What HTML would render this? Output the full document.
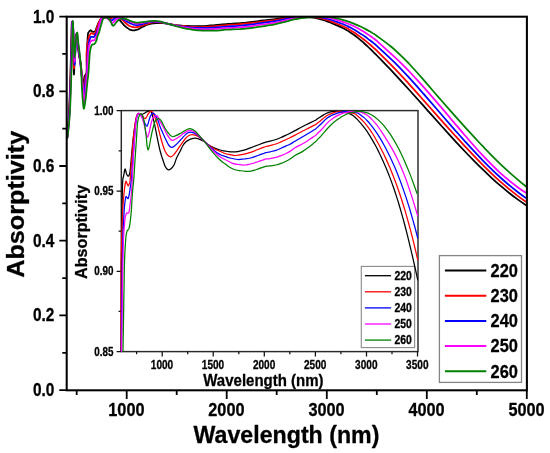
<!DOCTYPE html>
<html lang="en"><head><meta charset="utf-8"><title>Absorptivity vs Wavelength</title>
<style>html,body{margin:0;padding:0;background:#fff}svg{display:block}text{font-family:"Liberation Sans",sans-serif;font-weight:bold;fill:#000;stroke:#000;stroke-width:0.3px;stroke-linejoin:round}</style></head><body>
<svg width="550" height="453" viewBox="0 0 550 453">
<rect width="550" height="453" fill="#fff"/>
<defs><clipPath id="cm"><rect x="66.7" y="16.7" width="460.2" height="373.6"/></clipPath>
<clipPath id="ci"><rect x="120.1" y="110.6" width="298.3" height="241.5"/></clipPath></defs>
<g fill="none" stroke-width="1.75" stroke-linejoin="round" stroke-linecap="round" clip-path="url(#cm)">
<path stroke="#000000" d="M67.13 138.00C67.29 136.33 67.75 132.22 68.06 128.00C68.37 123.78 68.68 119.37 69.00 112.70C69.32 106.03 69.73 95.45 70.00 88.00C70.27 80.55 70.38 76.00 70.60 68.00C70.82 60.00 71.08 47.67 71.30 40.00C71.52 32.33 71.62 21.94 71.90 22.00C72.18 22.06 72.72 33.38 73.00 40.38C73.28 47.38 73.38 58.31 73.55 64.00C73.72 69.69 73.84 74.75 74.00 74.50C74.16 74.25 74.25 67.83 74.50 62.50C74.75 57.17 75.18 47.17 75.50 42.50C75.82 37.83 76.07 34.32 76.40 34.50C76.73 34.68 77.08 40.25 77.50 43.60C77.92 46.95 78.33 51.13 78.90 54.60C79.47 58.07 80.40 60.43 80.90 64.40C81.40 68.37 81.57 74.73 81.90 78.40C82.23 82.07 82.60 85.80 82.90 86.40C83.20 87.00 83.42 83.73 83.70 82.00C83.98 80.27 84.12 77.56 84.60 76.00C85.08 74.44 86.24 75.18 86.61 72.63C86.98 70.07 86.72 64.58 86.80 60.65C86.89 56.71 86.95 52.90 87.10 49.02C87.24 45.14 87.51 40.07 87.69 37.39C87.86 34.72 87.95 33.90 88.17 32.97C88.40 32.04 88.68 32.27 89.06 31.81C89.43 31.35 90.05 30.38 90.43 30.21C90.80 30.03 91.01 30.55 91.31 30.76C91.60 30.97 91.75 31.29 92.19 31.46C92.63 31.64 93.43 31.91 93.95 31.81C94.47 31.71 94.85 31.61 95.32 30.83C95.80 30.06 96.30 28.39 96.79 27.16C97.28 25.93 97.69 24.64 98.26 23.44C98.83 22.24 99.65 20.84 100.22 19.95C100.79 19.06 101.25 18.51 101.69 18.09C102.13 17.67 102.52 17.56 102.86 17.44C103.20 17.31 103.37 17.35 103.74 17.34C104.12 17.34 104.51 17.37 105.11 17.39C105.72 17.41 106.63 17.49 107.37 17.46C108.10 17.43 108.74 17.31 109.52 17.20C110.30 17.10 111.20 16.92 112.07 16.83C112.93 16.74 114.07 16.66 114.71 16.67C115.35 16.68 115.51 16.76 115.88 16.88C116.26 17.00 116.49 17.04 116.96 17.41C117.44 17.79 118.06 18.41 118.72 19.11C119.39 19.82 120.36 20.93 120.98 21.65C121.60 22.37 121.82 22.73 122.44 23.44C123.07 24.14 123.95 25.17 124.70 25.88C125.45 26.58 126.13 27.07 126.95 27.67C127.77 28.27 128.83 29.07 129.59 29.48C130.36 29.90 130.91 30.03 131.55 30.18C132.19 30.33 132.76 30.38 133.41 30.37C134.06 30.36 134.64 30.32 135.47 30.14C136.30 29.95 137.51 29.66 138.41 29.25C139.30 28.84 139.87 28.19 140.85 27.67C141.83 27.15 143.24 26.60 144.28 26.11C145.32 25.62 146.14 25.09 147.12 24.72C148.10 24.34 149.11 24.08 150.15 23.86C151.20 23.63 152.41 23.49 153.39 23.37C154.37 23.24 155.10 23.17 156.03 23.11C156.96 23.05 157.91 23.01 158.97 23.02C160.03 23.03 161.25 23.07 162.39 23.16C163.54 23.24 164.84 23.41 165.82 23.53C166.80 23.65 167.22 23.69 168.27 23.86C169.31 24.03 170.86 24.36 172.09 24.55C173.31 24.75 174.37 24.87 175.61 25.02C176.85 25.17 178.22 25.31 179.53 25.44C180.83 25.56 182.21 25.67 183.45 25.76C184.69 25.85 185.67 25.91 186.97 25.97C188.28 26.03 189.81 26.07 191.28 26.11C192.75 26.15 194.20 26.20 195.78 26.20C197.37 26.21 198.92 26.20 200.78 26.14C202.64 26.07 204.86 25.96 206.95 25.81C209.03 25.66 211.03 25.45 213.31 25.25C215.59 25.05 218.43 24.80 220.65 24.60C222.87 24.40 225.37 24.18 226.63 24.07C227.88 23.95 227.67 23.96 228.19 23.93C228.72 23.89 229.06 23.88 229.76 23.85C230.46 23.81 231.00 23.80 232.40 23.72C233.81 23.63 236.39 23.46 238.18 23.32C239.98 23.18 241.51 23.03 243.17 22.86C244.84 22.69 246.70 22.46 248.17 22.30C249.64 22.13 250.53 22.03 251.99 21.86C253.44 21.68 254.81 21.51 256.88 21.25C258.95 20.99 262.14 20.58 264.42 20.30C266.71 20.02 268.76 19.79 270.59 19.58C272.42 19.36 274.33 19.14 275.39 19.02C276.45 18.89 276.43 18.91 276.95 18.83C277.48 18.76 277.95 18.67 278.52 18.58C279.09 18.48 279.40 18.43 280.38 18.27C281.36 18.12 283.25 17.81 284.40 17.65C285.54 17.48 286.19 17.39 287.24 17.27C288.28 17.16 289.68 17.05 290.66 16.97C291.64 16.90 292.29 16.87 293.11 16.83C293.93 16.80 294.58 16.77 295.56 16.76C296.54 16.76 297.76 16.79 298.99 16.81C300.21 16.83 301.60 16.86 302.90 16.90C304.21 16.94 305.51 16.99 306.82 17.07C308.12 17.14 309.59 17.23 310.74 17.34C311.88 17.46 312.63 17.57 313.67 17.74C314.72 17.91 315.94 18.16 317.00 18.39C318.06 18.62 319.01 18.86 320.04 19.13C321.07 19.41 322.11 19.70 323.17 20.02C324.23 20.34 325.36 20.70 326.40 21.07C327.45 21.43 328.46 21.83 329.44 22.23C330.42 22.62 331.23 22.99 332.28 23.44C333.32 23.88 334.64 24.44 335.70 24.89C336.76 25.34 337.69 25.73 338.64 26.15C339.59 26.56 340.16 26.78 341.38 27.37C342.61 27.97 344.48 28.87 345.98 29.71C347.49 30.55 349.13 31.59 350.39 32.40C351.65 33.21 352.50 33.83 353.52 34.57C354.55 35.32 355.69 36.20 356.56 36.87C357.42 37.54 357.98 38.00 358.71 38.60C359.45 39.21 360.07 39.72 360.97 40.49C361.86 41.27 363.09 42.34 364.10 43.25C365.11 44.15 365.98 44.95 367.04 45.94C368.10 46.93 369.24 48.01 370.46 49.19C371.69 50.37 373.27 51.93 374.38 53.02C375.49 54.11 374.78 53.36 377.12 55.75C379.46 58.14 385.50 64.33 388.40 67.35C391.30 70.36 391.05 70.09 394.50 73.82C397.95 77.56 404.25 84.41 409.10 89.76C413.95 95.11 419.85 101.75 423.60 105.95C427.35 110.14 428.53 111.49 431.60 114.93C434.67 118.36 438.22 122.35 442.00 126.54C445.78 130.73 450.47 135.91 454.30 140.07C458.13 144.23 461.75 148.09 465.00 151.51C468.25 154.94 470.85 157.62 473.80 160.61C476.75 163.60 479.75 166.60 482.70 169.46C485.65 172.32 488.55 175.07 491.50 177.78C494.45 180.48 497.45 183.17 500.40 185.70C503.35 188.23 506.27 190.65 509.20 192.97C512.13 195.30 515.10 197.55 518.00 199.63C520.90 201.71 525.17 204.50 526.60 205.47"/>
<path stroke="#ff0000" d="M67.19 138.00C67.36 136.33 67.84 132.22 68.18 128.00C68.51 123.78 68.86 119.37 69.20 112.70C69.54 106.03 69.93 95.45 70.20 88.00C70.47 80.55 70.58 76.00 70.80 68.00C71.02 60.00 71.28 47.70 71.50 40.00C71.72 32.30 71.85 22.12 72.10 21.80C72.35 21.48 72.76 31.90 73.00 38.11C73.24 44.32 73.38 54.03 73.55 59.08C73.72 64.13 73.84 68.57 74.00 68.40C74.16 68.23 74.25 62.67 74.50 58.08C74.75 53.49 75.15 44.89 75.50 40.88C75.85 36.87 76.23 33.55 76.60 34.00C76.97 34.45 77.28 40.17 77.70 43.60C78.12 47.03 78.48 50.23 79.10 54.60C79.72 58.97 80.85 64.93 81.40 69.80C81.95 74.67 82.07 80.13 82.40 83.80C82.73 87.47 83.10 91.43 83.40 91.80C83.70 92.17 83.93 88.30 84.20 86.00C84.47 83.70 84.60 80.23 85.00 78.00C85.40 75.77 86.36 76.64 86.61 72.63C86.86 68.61 86.40 58.42 86.51 53.90C86.62 49.39 87.02 47.84 87.29 45.53C87.57 43.22 87.88 41.49 88.17 40.04C88.47 38.60 88.75 37.76 89.06 36.86C89.37 35.95 89.66 35.23 90.04 34.60C90.41 33.97 90.92 33.24 91.31 33.07C91.70 32.89 92.01 33.38 92.39 33.55C92.76 33.73 93.20 34.09 93.56 34.11C93.92 34.13 94.25 33.86 94.54 33.67C94.83 33.48 94.95 33.83 95.32 32.97C95.70 32.12 96.27 30.14 96.79 28.55C97.31 26.96 97.88 24.91 98.46 23.44C99.03 21.96 99.68 20.63 100.22 19.72C100.76 18.81 101.15 18.38 101.69 17.97C102.23 17.57 102.80 17.39 103.45 17.30C104.10 17.20 104.92 17.31 105.60 17.39C106.29 17.48 106.86 17.63 107.56 17.81C108.26 17.99 109.16 18.41 109.81 18.46C110.47 18.51 110.87 18.29 111.48 18.09C112.08 17.89 112.67 17.50 113.44 17.27C114.20 17.05 115.38 16.77 116.08 16.74C116.78 16.71 117.12 16.93 117.65 17.11C118.17 17.29 118.51 17.43 119.21 17.83C119.92 18.24 120.94 18.79 121.86 19.53C122.77 20.27 123.73 21.41 124.70 22.27C125.66 23.14 126.82 24.10 127.63 24.72C128.45 25.34 128.86 25.63 129.59 26.00C130.33 26.36 131.09 26.70 132.04 26.93C132.99 27.15 134.21 27.39 135.27 27.37C136.33 27.35 137.26 27.10 138.41 26.81C139.55 26.52 140.90 26.02 142.13 25.60C143.35 25.19 144.49 24.74 145.75 24.32C147.01 23.90 148.52 23.40 149.67 23.09C150.81 22.78 151.57 22.61 152.60 22.46C153.63 22.31 154.77 22.21 155.83 22.18C156.89 22.15 157.92 22.22 158.97 22.30C160.01 22.37 161.04 22.48 162.10 22.62C163.16 22.77 164.30 22.98 165.33 23.18C166.36 23.38 167.29 23.60 168.27 23.81C169.25 24.01 170.16 24.22 171.21 24.41C172.25 24.61 173.31 24.80 174.54 25.00C175.76 25.19 177.10 25.40 178.55 25.58C180.00 25.75 181.62 25.88 183.25 26.04C184.88 26.21 186.68 26.45 188.34 26.58C190.01 26.71 191.57 26.76 193.24 26.83C194.90 26.91 196.21 27.05 198.33 27.04C200.45 27.03 203.47 26.91 205.97 26.79C208.46 26.66 210.86 26.49 213.31 26.30C215.76 26.11 218.43 25.85 220.65 25.65C222.87 25.45 225.37 25.21 226.63 25.09C227.88 24.98 227.67 24.99 228.19 24.95C228.72 24.91 229.06 24.91 229.76 24.87C230.46 24.84 231.00 24.82 232.40 24.74C233.81 24.66 236.39 24.51 238.18 24.37C239.98 24.22 241.51 24.05 243.17 23.88C244.84 23.70 246.70 23.48 248.17 23.32C249.64 23.16 250.53 23.10 251.99 22.93C253.44 22.76 254.81 22.56 256.88 22.30C258.95 22.03 262.14 21.62 264.42 21.34C266.71 21.07 268.76 20.84 270.59 20.62C272.42 20.41 274.33 20.17 275.39 20.04C276.45 19.92 276.43 19.93 276.95 19.86C277.48 19.78 277.79 19.71 278.52 19.57C279.26 19.44 279.97 19.34 281.36 19.07C282.75 18.79 285.29 18.21 286.84 17.95C288.39 17.69 289.41 17.62 290.66 17.48C291.92 17.35 293.24 17.23 294.38 17.13C295.53 17.04 296.49 16.97 297.52 16.93C298.54 16.88 299.33 16.86 300.55 16.86C301.78 16.85 303.33 16.85 304.86 16.88C306.39 16.91 308.16 16.96 309.76 17.02C311.36 17.08 313.15 17.13 314.46 17.23C315.76 17.33 316.54 17.46 317.59 17.62C318.63 17.78 319.69 17.95 320.72 18.18C321.75 18.41 322.73 18.71 323.76 19.02C324.79 19.32 325.85 19.68 326.89 20.02C327.94 20.36 328.98 20.70 330.02 21.07C331.07 21.43 332.13 21.83 333.16 22.23C334.19 22.63 335.15 23.05 336.19 23.47C337.24 23.89 338.36 24.31 339.42 24.75C340.49 25.18 341.53 25.60 342.56 26.06C343.59 26.52 344.37 26.85 345.59 27.49C346.82 28.14 348.48 29.08 349.90 29.92C351.32 30.77 352.89 31.76 354.11 32.55C355.34 33.35 356.22 33.95 357.24 34.67C358.27 35.38 359.38 36.19 360.28 36.84C361.18 37.50 361.80 37.97 362.63 38.61C363.46 39.25 363.92 39.58 365.27 40.68C366.63 41.79 369.32 44.03 370.76 45.26C372.19 46.48 372.83 47.07 373.89 48.02C374.95 48.98 373.69 47.59 377.12 50.98C380.56 54.36 389.17 62.81 394.50 68.33C399.83 73.85 404.25 78.77 409.10 84.10C413.95 89.43 419.00 95.15 423.60 100.32C428.20 105.49 431.58 109.38 436.70 115.11C441.82 120.84 449.58 129.51 454.30 134.72C459.02 139.93 460.27 141.34 465.00 146.35C469.73 151.37 476.80 158.93 482.70 164.82C488.60 170.71 494.52 176.49 500.40 181.71C506.28 186.93 513.63 192.73 518.00 196.12C522.37 199.52 525.17 201.07 526.60 202.05"/>
<path stroke="#0000ff" d="M67.25 138.00C67.42 136.33 67.94 132.22 68.30 128.00C68.66 123.78 69.05 119.37 69.40 112.70C69.75 106.03 70.13 95.45 70.40 88.00C70.67 80.55 70.78 76.00 71.00 68.00C71.22 60.00 71.48 47.75 71.70 40.00C71.92 32.25 71.97 22.06 72.30 21.50C72.63 20.94 73.38 30.88 73.70 36.66C74.03 42.43 74.08 51.45 74.25 56.14C74.42 60.83 74.54 64.92 74.70 64.80C74.86 64.68 74.95 59.60 75.20 55.44C75.45 51.28 75.93 43.48 76.20 39.84C76.47 36.20 76.52 32.97 76.80 33.60C77.08 34.23 77.48 40.10 77.90 43.60C78.32 47.10 78.65 49.07 79.30 54.60C79.95 60.13 81.22 70.77 81.80 76.80C82.38 82.83 82.47 87.13 82.80 90.80C83.13 94.47 83.48 98.77 83.80 98.80C84.12 98.83 84.40 94.13 84.70 91.00C85.00 87.87 85.25 83.06 85.60 80.00C85.95 76.94 86.46 76.97 86.80 72.63C87.15 68.28 87.41 58.42 87.69 53.90C87.96 49.39 88.16 47.84 88.47 45.53C88.78 43.22 89.22 41.32 89.55 40.04C89.87 38.76 90.13 38.42 90.43 37.86C90.72 37.29 90.98 36.82 91.31 36.65C91.63 36.47 92.01 36.74 92.39 36.81C92.76 36.88 93.18 37.20 93.56 37.07C93.94 36.93 94.29 36.45 94.64 36.00C94.98 35.55 95.27 34.93 95.62 34.37C95.96 33.81 96.33 33.48 96.69 32.62C97.05 31.77 97.35 30.59 97.77 29.25C98.19 27.91 98.75 26.11 99.24 24.60C99.73 23.09 100.25 21.27 100.71 20.18C101.16 19.10 101.52 18.58 101.98 18.09C102.44 17.60 102.88 17.35 103.45 17.25C104.02 17.15 104.72 17.33 105.41 17.51C106.09 17.69 106.83 17.99 107.56 18.32C108.30 18.65 109.10 19.16 109.81 19.48C110.53 19.81 111.30 20.27 111.87 20.27C112.44 20.27 112.77 19.82 113.24 19.48C113.71 19.15 114.19 18.59 114.71 18.25C115.23 17.91 115.85 17.63 116.37 17.46C116.90 17.29 117.35 17.21 117.84 17.20C118.33 17.20 118.79 17.30 119.31 17.44C119.83 17.58 120.41 17.80 120.98 18.04C121.55 18.29 122.12 18.53 122.74 18.90C123.36 19.28 123.80 19.76 124.70 20.30C125.59 20.84 127.06 21.60 128.12 22.16C129.18 22.72 130.16 23.24 131.06 23.67C131.96 24.10 132.69 24.47 133.51 24.72C134.33 24.96 135.06 25.14 135.96 25.16C136.85 25.18 137.65 25.06 138.89 24.83C140.13 24.61 142.09 24.13 143.40 23.81C144.70 23.49 145.68 23.20 146.73 22.93C147.77 22.65 148.77 22.38 149.67 22.18C150.56 21.99 151.30 21.86 152.11 21.76C152.93 21.67 153.66 21.60 154.56 21.60C155.46 21.60 156.45 21.67 157.50 21.76C158.54 21.86 159.69 21.99 160.83 22.18C161.97 22.38 163.11 22.65 164.35 22.93C165.59 23.20 166.88 23.49 168.27 23.81C169.66 24.13 171.21 24.51 172.68 24.83C174.14 25.15 175.78 25.48 177.08 25.74C178.39 26.00 179.27 26.22 180.51 26.41C181.75 26.61 183.22 26.79 184.52 26.93C185.83 27.06 186.89 27.11 188.34 27.23C189.79 27.34 191.16 27.50 193.24 27.62C195.31 27.75 198.49 27.93 200.78 27.97C203.06 28.01 204.86 27.91 206.95 27.86C209.03 27.80 211.03 27.76 213.31 27.62C215.59 27.49 218.43 27.23 220.65 27.04C222.87 26.86 225.37 26.63 226.63 26.53C227.88 26.42 227.67 26.43 228.19 26.39C228.72 26.36 229.06 26.35 229.76 26.31C230.46 26.28 231.00 26.26 232.40 26.18C233.81 26.11 236.39 25.99 238.18 25.86C239.98 25.72 241.51 25.54 243.17 25.37C244.84 25.19 246.70 24.97 248.17 24.81C249.64 24.65 250.53 24.60 251.99 24.41C253.44 24.23 254.81 24.01 256.88 23.72C258.95 23.43 262.14 22.99 264.42 22.67C266.71 22.35 268.76 22.07 270.59 21.81C272.42 21.55 274.33 21.28 275.39 21.13C276.45 20.97 276.43 21.00 276.95 20.90C277.48 20.81 277.62 20.76 278.52 20.56C279.42 20.36 280.74 20.08 282.34 19.72C283.94 19.36 286.48 18.71 288.12 18.39C289.75 18.07 290.68 17.98 292.13 17.81C293.58 17.63 295.36 17.48 296.83 17.34C298.30 17.21 299.49 17.10 300.94 17.02C302.40 16.94 303.91 16.88 305.55 16.86C307.18 16.83 309.22 16.86 310.74 16.88C312.25 16.89 313.41 16.92 314.65 16.95C315.89 16.98 317.03 16.98 318.18 17.07C319.32 17.15 320.46 17.31 321.51 17.48C322.55 17.65 323.46 17.86 324.44 18.09C325.42 18.31 326.34 18.56 327.38 18.83C328.43 19.10 329.65 19.39 330.71 19.72C331.77 20.04 332.72 20.40 333.75 20.76C334.77 21.12 335.74 21.47 336.88 21.88C338.02 22.29 339.34 22.77 340.60 23.24C341.86 23.71 343.19 24.21 344.42 24.72C345.64 25.23 347.03 25.86 347.94 26.29C348.86 26.72 348.76 26.67 349.90 27.29C351.04 27.90 353.26 29.11 354.80 30.00C356.33 30.89 357.88 31.86 359.11 32.64C360.33 33.41 361.11 33.94 362.14 34.64C363.17 35.34 364.29 36.12 365.27 36.82C366.25 37.52 367.18 38.21 368.02 38.83C368.85 39.45 369.29 39.78 370.27 40.55C371.25 41.32 372.75 42.51 373.89 43.44C375.03 44.37 373.69 42.98 377.12 46.13C380.56 49.28 389.17 57.07 394.50 62.32C399.83 67.58 404.25 72.41 409.10 77.67C413.95 82.94 418.75 88.41 423.60 93.93C428.45 99.45 433.08 104.89 438.20 110.78C443.32 116.68 449.83 124.22 454.30 129.32C458.77 134.41 460.27 136.18 465.00 141.35C469.73 146.52 476.80 154.28 482.70 160.31C488.60 166.34 494.52 172.20 500.40 177.52C506.28 182.85 513.63 188.77 518.00 192.24C522.37 195.72 525.17 197.35 526.60 198.37"/>
<path stroke="#ff00ff" d="M67.33 138.00C67.51 136.33 68.06 132.22 68.45 128.00C68.84 123.78 69.28 119.37 69.65 112.70C70.02 106.03 70.38 95.45 70.65 88.00C70.92 80.55 71.03 76.00 71.25 68.00C71.47 60.00 71.73 47.78 71.95 40.00C72.17 32.22 72.26 22.05 72.55 21.30C72.84 20.55 73.42 30.10 73.70 35.51C73.98 40.92 74.08 49.38 74.25 53.78C74.42 58.18 74.54 61.98 74.70 61.90C74.86 61.82 74.95 57.12 75.20 53.29C75.45 49.46 75.89 42.29 76.20 38.94C76.51 35.59 76.72 32.42 77.05 33.20C77.38 33.98 77.73 40.03 78.15 43.60C78.57 47.17 78.86 48.40 79.55 54.60C80.24 60.80 81.67 74.10 82.30 80.80C82.92 87.50 82.97 91.13 83.30 94.80C83.63 98.47 84.00 102.60 84.30 102.80C84.60 103.00 84.78 99.47 85.10 96.00C85.42 92.53 85.87 85.90 86.20 82.00C86.53 78.10 86.77 77.31 87.10 72.63C87.43 67.94 87.85 58.34 88.17 53.90C88.50 49.47 88.68 48.01 89.06 46.00C89.43 43.98 90.04 42.68 90.43 41.81C90.82 40.94 91.11 41.00 91.41 40.76C91.70 40.52 91.86 40.42 92.19 40.37C92.52 40.32 92.99 40.50 93.36 40.46C93.74 40.42 94.11 40.45 94.44 40.14C94.77 39.82 94.95 39.28 95.32 38.55C95.70 37.83 96.29 36.97 96.69 35.81C97.10 34.65 97.43 33.06 97.77 31.58C98.11 30.10 98.42 28.28 98.75 26.93C99.08 25.57 99.37 24.67 99.73 23.44C100.09 22.20 100.50 20.46 100.90 19.53C101.31 18.60 101.72 18.24 102.18 17.86C102.63 17.48 103.04 17.29 103.65 17.25C104.25 17.21 105.11 17.39 105.80 17.62C106.48 17.86 107.14 18.24 107.76 18.67C108.38 19.10 108.98 19.68 109.52 20.18C110.06 20.69 110.50 21.26 110.99 21.69C111.48 22.13 111.97 22.79 112.46 22.81C112.95 22.83 113.40 22.29 113.93 21.81C114.45 21.33 115.05 20.47 115.59 19.95C116.13 19.43 116.64 18.99 117.16 18.67C117.68 18.35 118.17 18.20 118.72 18.04C119.28 17.89 119.93 17.76 120.49 17.74C121.04 17.72 121.53 17.81 122.05 17.93C122.58 18.05 123.18 18.26 123.62 18.46C124.06 18.66 123.95 18.79 124.70 19.13C125.45 19.48 127.14 20.10 128.12 20.53C129.10 20.96 129.67 21.31 130.57 21.69C131.47 22.08 132.51 22.55 133.51 22.86C134.50 23.16 135.40 23.48 136.54 23.53C137.69 23.58 139.01 23.33 140.36 23.16C141.72 22.98 143.53 22.68 144.67 22.48C145.81 22.29 146.39 22.14 147.22 22.00C148.05 21.85 148.88 21.71 149.67 21.60C150.45 21.49 151.20 21.39 151.92 21.32C152.64 21.26 153.21 21.20 153.97 21.20C154.74 21.21 155.59 21.26 156.52 21.34C157.45 21.43 158.33 21.51 159.55 21.74C160.78 21.96 162.41 22.35 163.86 22.69C165.32 23.04 166.80 23.43 168.27 23.81C169.74 24.19 171.21 24.60 172.68 24.97C174.14 25.34 175.61 25.71 177.08 26.04C178.55 26.38 180.04 26.70 181.49 26.97C182.94 27.24 184.49 27.48 185.80 27.67C187.10 27.86 187.66 27.89 189.32 28.09C190.99 28.29 193.82 28.68 195.78 28.86C197.74 29.03 199.19 29.07 201.07 29.14C202.95 29.20 205.25 29.26 207.04 29.25C208.84 29.25 210.39 29.18 211.84 29.11C213.29 29.05 214.13 28.98 215.76 28.86C217.39 28.74 219.82 28.54 221.63 28.39C223.44 28.25 225.53 28.07 226.63 27.98C227.72 27.89 227.67 27.88 228.19 27.86C228.72 27.83 229.06 27.84 229.76 27.82C230.46 27.81 231.00 27.82 232.40 27.76C233.81 27.71 236.39 27.60 238.18 27.48C239.98 27.37 241.51 27.22 243.17 27.07C244.84 26.91 246.70 26.74 248.17 26.58C249.64 26.41 250.53 26.31 251.99 26.09C253.44 25.87 254.81 25.55 256.88 25.25C258.95 24.95 262.14 24.61 264.42 24.30C266.71 23.99 268.76 23.67 270.59 23.39C272.42 23.11 274.33 22.80 275.39 22.64C276.45 22.47 276.43 22.49 276.95 22.39C277.48 22.29 277.46 22.27 278.52 22.02C279.58 21.77 281.51 21.34 283.32 20.88C285.13 20.42 287.59 19.69 289.39 19.27C291.18 18.86 292.43 18.66 294.09 18.39C295.75 18.12 297.91 17.83 299.38 17.65C300.85 17.46 301.66 17.40 302.90 17.30C304.14 17.20 305.43 17.12 306.82 17.04C308.21 16.97 309.76 16.88 311.22 16.86C312.69 16.83 314.08 16.86 315.63 16.88C317.18 16.90 319.27 16.96 320.53 17.00C321.78 17.03 322.19 17.01 323.17 17.09C324.15 17.16 325.36 17.29 326.40 17.44C327.45 17.58 328.41 17.74 329.44 17.95C330.47 18.16 331.53 18.42 332.57 18.69C333.61 18.96 334.68 19.27 335.70 19.57C336.73 19.87 337.71 20.18 338.74 20.50C339.77 20.82 340.75 21.12 341.87 21.49C343.00 21.86 344.24 22.26 345.49 22.72C346.75 23.18 348.11 23.71 349.41 24.26C350.72 24.81 352.10 25.46 353.33 26.04C354.55 26.62 355.53 27.11 356.76 27.76C357.98 28.40 359.35 29.15 360.67 29.91C361.99 30.67 363.49 31.58 364.69 32.32C365.88 33.06 366.78 33.66 367.82 34.36C368.86 35.06 370.02 35.86 370.95 36.52C371.88 37.18 372.58 37.70 373.40 38.30C374.22 38.91 375.23 39.69 375.85 40.17C376.47 40.64 372.80 37.23 377.12 41.16C381.45 45.09 395.25 57.43 401.80 63.76C408.35 70.09 411.55 73.88 416.40 79.15C421.25 84.43 426.05 89.86 430.90 95.40C435.75 100.95 441.60 107.85 445.50 112.43C449.40 117.01 451.05 119.03 454.30 122.87C457.55 126.72 460.27 130.07 465.00 135.50C469.73 140.93 476.80 149.17 482.70 155.44C488.60 161.70 494.52 167.74 500.40 173.09C506.28 178.43 513.63 184.14 518.00 187.49C522.37 190.83 525.17 192.21 526.60 193.15"/>
<path stroke="#008000" d="M67.40 138.00C67.60 136.33 68.18 132.22 68.60 128.00C69.02 123.78 69.52 119.37 69.90 112.70C70.28 106.03 70.63 95.45 70.90 88.00C71.17 80.55 71.28 76.00 71.50 68.00C71.72 60.00 71.98 47.82 72.20 40.00C72.42 32.18 72.60 22.27 72.80 21.10C73.00 19.93 73.20 28.52 73.40 33.00C73.60 37.48 73.78 43.92 74.00 48.00C74.22 52.08 74.47 57.50 74.70 57.50C74.93 57.50 75.13 51.42 75.40 48.00C75.67 44.58 75.98 39.53 76.30 37.00C76.62 34.47 76.95 31.70 77.30 32.80C77.65 33.90 77.98 39.97 78.40 43.60C78.82 47.23 79.32 49.87 79.80 54.60C80.28 59.33 80.95 66.45 81.30 72.00C81.65 77.55 81.58 82.40 81.90 87.90C82.22 93.40 82.85 101.53 83.20 105.00C83.55 108.47 83.72 108.87 84.00 108.70C84.28 108.53 84.60 105.82 84.90 104.00C85.20 102.18 85.40 101.32 85.80 97.80C86.20 94.28 86.86 87.10 87.30 82.90C87.74 78.70 88.06 77.46 88.47 72.63C88.88 67.79 89.42 57.80 89.74 53.90C90.07 50.01 90.17 50.56 90.43 49.25C90.69 47.95 91.01 46.81 91.31 46.07C91.60 45.32 91.85 45.08 92.19 44.79C92.53 44.50 92.99 44.46 93.36 44.32C93.74 44.18 94.03 44.36 94.44 43.95C94.85 43.53 95.44 42.54 95.81 41.83C96.19 41.13 96.40 40.65 96.69 39.72C96.99 38.78 97.22 37.36 97.57 36.23C97.93 35.10 98.55 33.72 98.85 32.95C99.14 32.17 99.11 32.39 99.34 31.58C99.57 30.77 99.84 29.45 100.22 28.09C100.59 26.73 101.18 24.86 101.59 23.44C102.00 22.01 102.27 20.42 102.67 19.53C103.06 18.64 103.48 18.44 103.94 18.09C104.40 17.74 104.87 17.50 105.41 17.41C105.95 17.33 106.68 17.43 107.17 17.58C107.66 17.73 107.97 18.00 108.35 18.32C108.72 18.65 108.95 18.80 109.42 19.53C109.90 20.26 110.74 21.81 111.18 22.69C111.63 23.57 111.76 24.30 112.07 24.81C112.38 25.32 112.67 25.76 113.05 25.76C113.42 25.76 113.75 25.43 114.32 24.81C114.89 24.19 115.66 22.95 116.47 22.07C117.29 21.19 118.40 20.10 119.21 19.53C120.03 18.96 120.78 18.85 121.37 18.67C121.96 18.49 122.22 18.47 122.74 18.46C123.26 18.45 123.91 18.49 124.50 18.60C125.09 18.71 125.38 18.75 126.26 19.11C127.14 19.47 128.74 20.33 129.79 20.76C130.83 21.19 131.67 21.42 132.53 21.69C133.40 21.96 134.21 22.24 134.98 22.39C135.75 22.55 136.23 22.62 137.13 22.62C138.03 22.63 139.11 22.53 140.36 22.41C141.62 22.29 143.45 22.06 144.67 21.90C145.90 21.74 146.71 21.60 147.71 21.46C148.70 21.32 149.60 21.17 150.64 21.07C151.69 20.96 152.99 20.82 153.97 20.81C154.95 20.80 155.59 20.89 156.52 21.00C157.45 21.10 158.33 21.20 159.55 21.46C160.78 21.72 162.41 22.19 163.86 22.58C165.32 22.97 166.80 23.38 168.27 23.81C169.74 24.24 171.21 24.74 172.68 25.18C174.14 25.63 175.61 26.08 177.08 26.48C178.55 26.89 180.04 27.28 181.49 27.62C182.94 27.97 184.65 28.33 185.80 28.55C186.94 28.77 187.35 28.77 188.34 28.95C189.34 29.12 190.53 29.40 191.77 29.60C193.01 29.80 194.56 30.00 195.78 30.14C197.01 30.27 197.86 30.34 199.11 30.41C200.37 30.49 201.85 30.53 203.32 30.58C204.79 30.63 206.47 30.69 207.92 30.72C209.38 30.74 210.73 30.76 212.04 30.74C213.34 30.72 214.52 30.65 215.76 30.58C217.00 30.50 218.17 30.41 219.48 30.30C220.78 30.19 222.40 30.01 223.59 29.90C224.78 29.80 225.86 29.73 226.63 29.67C227.39 29.61 227.67 29.58 228.19 29.55C228.72 29.53 229.06 29.53 229.76 29.52C230.46 29.50 231.00 29.51 232.40 29.46C233.81 29.42 236.39 29.35 238.18 29.25C239.98 29.15 241.51 29.03 243.17 28.88C244.84 28.73 246.70 28.54 248.17 28.37C249.64 28.20 250.53 28.08 251.99 27.86C253.44 27.64 254.81 27.34 256.88 27.04C258.95 26.75 262.14 26.42 264.42 26.09C266.71 25.76 268.76 25.37 270.59 25.04C272.42 24.72 274.33 24.35 275.39 24.15C276.45 23.95 276.43 23.97 276.95 23.86C277.48 23.74 277.46 23.73 278.52 23.46C279.58 23.18 281.51 22.70 283.32 22.23C285.13 21.75 287.59 21.06 289.39 20.60C291.18 20.14 292.43 19.83 294.09 19.48C295.75 19.14 297.91 18.78 299.38 18.53C300.85 18.28 301.66 18.14 302.90 17.97C304.14 17.80 305.51 17.64 306.82 17.51C308.12 17.37 309.49 17.25 310.74 17.16C311.98 17.07 312.84 17.02 314.26 16.97C315.68 16.92 317.80 16.87 319.25 16.86C320.71 16.84 321.70 16.86 322.97 16.88C324.25 16.90 325.70 16.91 326.89 16.97C328.08 17.03 329.08 17.12 330.12 17.23C331.17 17.34 332.15 17.48 333.16 17.65C334.17 17.82 335.15 18.03 336.19 18.25C337.24 18.48 338.36 18.72 339.42 18.98C340.49 19.23 341.53 19.51 342.56 19.80C343.59 20.08 344.45 20.33 345.59 20.68C346.74 21.04 348.16 21.49 349.41 21.93C350.67 22.37 351.91 22.84 353.13 23.33C354.36 23.81 355.51 24.29 356.76 24.83C358.00 25.38 359.63 26.14 360.57 26.58C361.52 27.03 361.60 27.07 362.43 27.50C363.27 27.92 364.47 28.53 365.57 29.12C366.66 29.71 367.77 30.32 368.99 31.03C370.22 31.74 371.65 32.60 372.91 33.38C374.17 34.16 373.54 33.52 376.53 35.70C379.53 37.89 386.39 42.74 390.90 46.48C395.41 50.21 400.57 55.25 403.60 58.14C406.63 61.02 405.77 60.14 409.10 63.76C412.43 67.38 418.75 74.34 423.60 79.85C428.45 85.37 433.35 91.25 438.20 96.84C443.05 102.42 448.23 108.32 452.70 113.36C457.17 118.41 461.18 122.89 465.00 127.11C468.82 131.32 472.65 135.49 475.60 138.67C478.55 141.85 478.57 141.98 482.70 146.21C486.83 150.44 494.52 158.41 500.40 164.03C506.28 169.65 513.63 176.13 518.00 179.94C522.37 183.76 525.17 185.75 526.60 186.91"/>
</g>
<g stroke="#000" stroke-width="2.05" fill="none">
<rect x="66.7" y="16.7" width="460.2" height="373.6"/>
<path d="M66.7 390.1H59.3M66.7 315.4H59.3M66.7 240.7H59.3M66.7 166.0H59.3M66.7 91.3H59.3M66.7 16.6H59.3M66.7 352.8H62.3M66.7 278.1H62.3M66.7 203.4H62.3M66.7 128.7H62.3M66.7 53.9H62.3M126.7 390.3V398.9M226.7 390.3V398.9M326.8 390.3V398.9M426.8 390.3V398.9M526.8 390.3V398.9M76.7 390.3V394.9M176.7 390.3V394.9M276.7 390.3V394.9M376.8 390.3V394.9M476.8 390.3V394.9" stroke-width="1.8"/>
</g>
<g font-size="17.6px" lengthAdjust="spacingAndGlyphs">
<text x="54.3" y="396.1" text-anchor="end" textLength="21.4" lengthAdjust="spacingAndGlyphs">0.0</text>
<text x="54.3" y="321.4" text-anchor="end" textLength="21.4" lengthAdjust="spacingAndGlyphs">0.2</text>
<text x="54.3" y="246.7" text-anchor="end" textLength="21.4" lengthAdjust="spacingAndGlyphs">0.4</text>
<text x="54.3" y="172.0" text-anchor="end" textLength="21.4" lengthAdjust="spacingAndGlyphs">0.6</text>
<text x="54.3" y="97.3" text-anchor="end" textLength="21.4" lengthAdjust="spacingAndGlyphs">0.8</text>
<text x="54.3" y="22.6" text-anchor="end" textLength="21.4" lengthAdjust="spacingAndGlyphs">1.0</text>
<text x="126.4" y="416.1" text-anchor="middle" textLength="36.2" lengthAdjust="spacingAndGlyphs">1000</text>
<text x="226.4" y="416.1" text-anchor="middle" textLength="36.2" lengthAdjust="spacingAndGlyphs">2000</text>
<text x="326.5" y="416.1" text-anchor="middle" textLength="36.2" lengthAdjust="spacingAndGlyphs">3000</text>
<text x="426.5" y="416.1" text-anchor="middle" textLength="36.2" lengthAdjust="spacingAndGlyphs">4000</text>
<text x="526.5" y="416.1" text-anchor="middle" textLength="36.2" lengthAdjust="spacingAndGlyphs">5000</text>
</g>
<text x="286.5" y="442.5" font-size="23.8px" text-anchor="middle" textLength="185.8" lengthAdjust="spacingAndGlyphs">Wavelength (nm)</text>
<text transform="translate(24.2 204.3) rotate(-90)" font-size="23px" text-anchor="middle" textLength="147" lengthAdjust="spacingAndGlyphs">Absorptivity</text>
<rect x="439.4" y="255.6" width="82.1" height="126.8" fill="#fff" stroke="#858585" stroke-width="1.3"/>
<path d="M444.9 270.5H486.3" stroke="#000000" stroke-width="2" fill="none"/>
<text x="490.5" y="276.8" font-size="19px" textLength="27.4" lengthAdjust="spacingAndGlyphs">220</text>
<path d="M444.9 295.7H486.3" stroke="#ff0000" stroke-width="2" fill="none"/>
<text x="490.5" y="302.0" font-size="19px" textLength="27.4" lengthAdjust="spacingAndGlyphs">230</text>
<path d="M444.9 320.9H486.3" stroke="#0000ff" stroke-width="2" fill="none"/>
<text x="490.5" y="327.2" font-size="19px" textLength="27.4" lengthAdjust="spacingAndGlyphs">240</text>
<path d="M444.9 346.0H486.3" stroke="#ff00ff" stroke-width="2" fill="none"/>
<text x="490.5" y="352.3" font-size="19px" textLength="27.4" lengthAdjust="spacingAndGlyphs">250</text>
<path d="M444.9 371.2H486.3" stroke="#008000" stroke-width="2" fill="none"/>
<text x="490.5" y="377.5" font-size="19px" textLength="27.4" lengthAdjust="spacingAndGlyphs">260</text>
<g fill="none" stroke-width="1.25" stroke-linejoin="round" stroke-linecap="butt" clip-path="url(#ci)">
</g>
<g stroke="#2a2a2a" stroke-width="1.45" fill="none">
<rect x="121.3" y="110.6" width="296.7" height="241.0"/>
<path d="M121.3 351.6H116.6M121.3 271.3H116.6M121.3 191.0H116.6M121.3 110.7H116.6M121.3 311.4H118.6M121.3 231.1H118.6M121.3 150.9H118.6M162.2 351.6V356.4M213.2 351.6V356.4M264.3 351.6V356.4M315.4 351.6V356.4M366.5 351.6V356.4M417.5 351.6V356.4M136.6 351.6V354.2M187.7 351.6V354.2M238.8 351.6V354.2M289.8 351.6V354.2M340.9 351.6V354.2M392.0 351.6V354.2" stroke-width="1.25" stroke="#111"/>
</g>
<rect x="361.3" y="266.4" width="53.3" height="81.2" fill="#fff" stroke="#8e8e8e" stroke-width="1.15"/>
<path d="M364.9 275.7H391.1" stroke="#000000" stroke-width="1.3" fill="none"/>
<text x="394.4" y="279.8" font-size="11.9px" textLength="17.4" lengthAdjust="spacingAndGlyphs">220</text>
<path d="M364.9 291.8H391.1" stroke="#ff0000" stroke-width="1.3" fill="none"/>
<text x="394.4" y="295.9" font-size="11.9px" textLength="17.4" lengthAdjust="spacingAndGlyphs">230</text>
<path d="M364.9 307.9H391.1" stroke="#0000ff" stroke-width="1.3" fill="none"/>
<text x="394.4" y="312.0" font-size="11.9px" textLength="17.4" lengthAdjust="spacingAndGlyphs">240</text>
<path d="M364.9 324.0H391.1" stroke="#ff00ff" stroke-width="1.3" fill="none"/>
<text x="394.4" y="328.1" font-size="11.9px" textLength="17.4" lengthAdjust="spacingAndGlyphs">250</text>
<path d="M364.9 340.1H391.1" stroke="#008000" stroke-width="1.3" fill="none"/>
<text x="394.4" y="344.2" font-size="11.9px" textLength="17.4" lengthAdjust="spacingAndGlyphs">260</text>
<g fill="none" stroke-width="1.25" stroke-linejoin="round" stroke-linecap="butt" clip-path="url(#ci)">
<path stroke="#000000" d="M121.10 351.50C121.13 342.92 121.22 316.92 121.30 300.00C121.38 283.08 121.45 266.67 121.60 250.00C121.75 233.33 122.02 211.50 122.20 200.00C122.38 188.50 122.47 185.00 122.70 181.00C122.93 177.00 123.22 177.98 123.60 176.00C123.98 174.02 124.62 169.85 125.00 169.10C125.38 168.35 125.60 170.60 125.90 171.50C126.20 172.40 126.35 173.75 126.80 174.50C127.25 175.25 128.07 176.45 128.60 176.00C129.13 175.55 129.52 175.13 130.00 171.80C130.48 168.47 131.00 161.30 131.50 156.00C132.00 150.70 132.42 145.17 133.00 140.00C133.58 134.83 134.42 128.83 135.00 125.00C135.58 121.17 136.05 118.80 136.50 117.00C136.95 115.20 137.35 114.73 137.70 114.20C138.05 113.67 138.22 113.83 138.60 113.80C138.98 113.77 139.38 113.92 140.00 114.00C140.62 114.08 141.55 114.43 142.30 114.30C143.05 114.17 143.70 113.65 144.50 113.20C145.30 112.75 146.22 111.98 147.10 111.60C147.98 111.22 149.15 110.87 149.80 110.90C150.45 110.93 150.62 111.27 151.00 111.80C151.38 112.33 151.62 112.50 152.10 114.10C152.58 115.70 153.22 118.37 153.90 121.40C154.58 124.43 155.57 129.20 156.20 132.30C156.83 135.40 157.07 136.97 157.70 140.00C158.33 143.03 159.23 147.47 160.00 150.50C160.77 153.53 161.47 155.62 162.30 158.20C163.13 160.78 164.22 164.20 165.00 166.00C165.78 167.80 166.35 168.37 167.00 169.00C167.65 169.63 168.23 169.83 168.90 169.80C169.57 169.77 170.15 169.60 171.00 168.80C171.85 168.00 173.08 166.77 174.00 165.00C174.92 163.23 175.50 160.45 176.50 158.20C177.50 155.95 178.93 153.62 180.00 151.50C181.07 149.38 181.90 147.12 182.90 145.50C183.90 143.88 184.93 142.77 186.00 141.80C187.07 140.83 188.30 140.23 189.30 139.70C190.30 139.17 191.05 138.85 192.00 138.60C192.95 138.35 193.92 138.17 195.00 138.20C196.08 138.23 197.33 138.43 198.50 138.80C199.67 139.17 201.00 139.90 202.00 140.40C203.00 140.90 203.43 141.07 204.50 141.80C205.57 142.53 207.15 143.97 208.40 144.80C209.65 145.63 210.73 146.17 212.00 146.80C213.27 147.43 214.67 148.07 216.00 148.60C217.33 149.13 218.73 149.62 220.00 150.00C221.27 150.38 222.27 150.65 223.60 150.90C224.93 151.15 226.50 151.33 228.00 151.50C229.50 151.67 230.98 151.88 232.60 151.90C234.22 151.92 235.80 151.88 237.70 151.60C239.60 151.32 241.87 150.83 244.00 150.20C246.13 149.57 248.17 148.67 250.50 147.80C252.83 146.93 255.73 145.85 258.00 145.00C260.27 144.15 262.82 143.19 264.10 142.70C265.38 142.22 265.17 142.26 265.70 142.10C266.23 141.94 266.58 141.92 267.30 141.77C268.02 141.62 268.57 141.58 270.00 141.20C271.43 140.82 274.07 140.12 275.90 139.50C277.73 138.88 279.30 138.23 281.00 137.50C282.70 136.77 284.60 135.82 286.10 135.10C287.60 134.38 288.52 133.95 290.00 133.20C291.48 132.45 292.88 131.72 295.00 130.60C297.12 129.48 300.37 127.70 302.70 126.50C305.03 125.30 307.13 124.32 309.00 123.40C310.87 122.48 312.82 121.52 313.90 120.99C314.98 120.45 314.97 120.51 315.50 120.20C316.03 119.89 316.52 119.50 317.10 119.10C317.68 118.70 318.00 118.47 319.00 117.80C320.00 117.13 321.93 115.82 323.10 115.10C324.27 114.38 324.93 113.98 326.00 113.50C327.07 113.02 328.50 112.52 329.50 112.20C330.50 111.88 331.17 111.75 332.00 111.60C332.83 111.45 333.50 111.32 334.50 111.30C335.50 111.28 336.75 111.40 338.00 111.50C339.25 111.60 340.67 111.72 342.00 111.90C343.33 112.08 344.67 112.28 346.00 112.60C347.33 112.92 348.83 113.31 350.00 113.80C351.17 114.29 351.93 114.76 353.00 115.55C354.07 116.34 355.32 117.50 356.40 118.55C357.48 119.60 358.45 120.67 359.50 121.84C360.55 123.02 361.62 124.24 362.70 125.59C363.78 126.95 364.93 128.48 366.00 129.98C367.07 131.48 368.10 133.03 369.10 134.59C370.10 136.14 370.93 137.49 372.00 139.32C373.07 141.15 374.42 143.56 375.50 145.57C376.58 147.58 377.53 149.44 378.50 151.38C379.47 153.31 380.05 154.45 381.30 157.18C382.55 159.91 384.47 164.11 386.00 167.77C387.53 171.42 389.22 175.72 390.50 179.10C391.78 182.47 392.65 184.95 393.70 188.00C394.75 191.05 395.92 194.63 396.80 197.38C397.68 200.13 398.25 202.00 399.00 204.50C399.75 206.99 400.38 209.11 401.30 212.36C402.22 215.61 403.47 220.13 404.50 224.01C405.53 227.89 406.42 231.30 407.50 235.64C408.58 239.98 409.75 244.73 411.00 250.04C412.25 255.35 413.87 262.45 415.00 267.50C416.13 272.54 417.33 278.18 417.80 280.31"/>
<path stroke="#ff0000" d="M121.10 351.50C121.08 338.08 120.88 290.42 121.00 271.00C121.12 251.58 121.52 244.93 121.80 235.00C122.08 225.07 122.40 217.62 122.70 211.40C123.00 205.18 123.28 201.60 123.60 197.70C123.92 193.80 124.22 190.72 124.60 188.00C124.98 185.28 125.50 182.15 125.90 181.40C126.30 180.65 126.62 182.75 127.00 183.50C127.38 184.25 127.83 185.82 128.20 185.90C128.57 185.98 128.90 184.82 129.20 184.00C129.50 183.18 129.62 184.67 130.00 181.00C130.38 177.33 130.97 168.83 131.50 162.00C132.03 155.17 132.62 146.33 133.20 140.00C133.78 133.67 134.45 127.92 135.00 124.00C135.55 120.08 135.95 118.23 136.50 116.50C137.05 114.77 137.63 114.02 138.30 113.60C138.97 113.18 139.80 113.63 140.50 114.00C141.20 114.37 141.78 115.03 142.50 115.80C143.22 116.57 144.13 118.40 144.80 118.60C145.47 118.80 145.88 117.85 146.50 117.00C147.12 116.15 147.72 114.47 148.50 113.50C149.28 112.53 150.48 111.32 151.20 111.20C151.92 111.08 152.27 112.02 152.80 112.80C153.33 113.58 153.68 114.17 154.40 115.90C155.12 117.63 156.17 120.02 157.10 123.20C158.03 126.38 159.02 131.28 160.00 135.00C160.98 138.72 162.17 142.83 163.00 145.50C163.83 148.17 164.25 149.42 165.00 151.00C165.75 152.58 166.53 154.02 167.50 155.00C168.47 155.98 169.72 156.98 170.80 156.90C171.88 156.82 172.83 155.77 174.00 154.50C175.17 153.23 176.55 151.08 177.80 149.30C179.05 147.52 180.22 145.60 181.50 143.80C182.78 142.00 184.33 139.83 185.50 138.50C186.67 137.17 187.45 136.45 188.50 135.80C189.55 135.15 190.72 134.72 191.80 134.60C192.88 134.48 193.93 134.78 195.00 135.10C196.07 135.42 197.12 135.87 198.20 136.50C199.28 137.13 200.45 138.05 201.50 138.90C202.55 139.75 203.50 140.72 204.50 141.60C205.50 142.48 206.43 143.35 207.50 144.20C208.57 145.05 209.65 145.87 210.90 146.70C212.15 147.53 213.52 148.45 215.00 149.20C216.48 149.95 218.13 150.48 219.80 151.20C221.47 151.92 223.30 152.93 225.00 153.50C226.70 154.07 228.30 154.27 230.00 154.60C231.70 154.93 233.03 155.53 235.20 155.50C237.37 155.47 240.45 154.93 243.00 154.40C245.55 153.87 248.00 153.12 250.50 152.30C253.00 151.48 255.73 150.36 258.00 149.50C260.27 148.64 262.82 147.62 264.10 147.12C265.38 146.62 265.17 146.66 265.70 146.50C266.23 146.34 266.58 146.32 267.30 146.17C268.02 146.02 268.57 145.96 270.00 145.60C271.43 145.24 274.07 144.62 275.90 144.00C277.73 143.38 279.30 142.65 281.00 141.90C282.70 141.15 284.60 140.18 286.10 139.50C287.60 138.82 288.52 138.53 290.00 137.80C291.48 137.07 292.88 136.23 295.00 135.10C297.12 133.97 300.37 132.20 302.70 131.00C305.03 129.80 307.13 128.83 309.00 127.90C310.87 126.97 312.82 125.96 313.90 125.41C314.98 124.86 314.97 124.94 315.50 124.60C316.03 124.26 316.35 123.96 317.10 123.39C317.85 122.82 318.58 122.37 320.00 121.20C321.42 120.03 324.02 117.53 325.60 116.40C327.18 115.27 328.22 114.98 329.50 114.40C330.78 113.82 332.13 113.30 333.30 112.90C334.47 112.50 335.45 112.20 336.50 112.00C337.55 111.80 338.35 111.73 339.60 111.70C340.85 111.67 342.43 111.68 344.00 111.80C345.57 111.92 347.37 112.14 349.00 112.40C350.63 112.66 352.47 112.87 353.80 113.37C355.13 113.87 355.93 114.58 357.00 115.40C358.07 116.21 359.15 117.27 360.20 118.26C361.25 119.26 362.25 120.23 363.30 121.37C364.35 122.52 365.43 123.80 366.50 125.14C367.57 126.49 368.63 127.93 369.70 129.46C370.77 130.98 371.85 132.63 372.90 134.29C373.95 135.96 374.93 137.59 376.00 139.45C377.07 141.30 378.22 143.38 379.30 145.42C380.38 147.46 381.45 149.55 382.50 151.66C383.55 153.78 384.35 155.39 385.60 158.12C386.85 160.86 388.55 164.62 390.00 168.06C391.45 171.50 393.05 175.54 394.30 178.77C395.55 182.00 396.45 184.49 397.50 187.45C398.55 190.40 399.68 193.74 400.60 196.49C401.52 199.24 402.15 201.23 403.00 203.95C403.85 206.68 404.32 207.99 405.70 212.86C407.08 217.73 409.83 227.66 411.30 233.19C412.77 238.71 413.42 241.51 414.50 246.01C415.58 250.52 417.25 257.86 417.80 260.23"/>
<path stroke="#0000ff" d="M121.30 351.50C121.45 338.08 121.92 290.42 122.20 271.00C122.48 251.58 122.68 244.93 123.00 235.00C123.32 225.07 123.77 216.90 124.10 211.40C124.43 205.90 124.70 204.43 125.00 202.00C125.30 199.57 125.57 197.55 125.90 196.80C126.23 196.05 126.62 197.20 127.00 197.50C127.38 197.80 127.82 199.18 128.20 198.60C128.58 198.02 128.95 195.93 129.30 194.00C129.65 192.07 129.95 189.42 130.30 187.00C130.65 184.58 131.03 183.17 131.40 179.50C131.77 175.83 132.07 170.75 132.50 165.00C132.93 159.25 133.50 151.50 134.00 145.00C134.50 138.50 135.03 130.67 135.50 126.00C135.97 121.33 136.33 119.10 136.80 117.00C137.27 114.90 137.72 113.82 138.30 113.40C138.88 112.98 139.60 113.73 140.30 114.50C141.00 115.27 141.75 116.58 142.50 118.00C143.25 119.42 144.07 121.60 144.80 123.00C145.53 124.40 146.32 126.40 146.90 126.40C147.48 126.40 147.82 124.45 148.30 123.00C148.78 121.55 149.27 119.15 149.80 117.70C150.33 116.25 150.97 115.05 151.50 114.30C152.03 113.55 152.50 113.22 153.00 113.20C153.50 113.18 153.97 113.60 154.50 114.20C155.03 114.80 155.62 115.75 156.20 116.80C156.78 117.85 157.37 118.88 158.00 120.50C158.63 122.12 159.08 124.17 160.00 126.50C160.92 128.83 162.42 132.08 163.50 134.50C164.58 136.92 165.58 139.17 166.50 141.00C167.42 142.83 168.17 144.43 169.00 145.50C169.83 146.57 170.58 147.32 171.50 147.40C172.42 147.48 173.23 146.97 174.50 146.00C175.77 145.03 177.77 142.97 179.10 141.60C180.43 140.23 181.43 138.97 182.50 137.80C183.57 136.63 184.58 135.43 185.50 134.60C186.42 133.77 187.17 133.22 188.00 132.80C188.83 132.38 189.58 132.10 190.50 132.10C191.42 132.10 192.43 132.38 193.50 132.80C194.57 133.22 195.73 133.77 196.90 134.60C198.07 135.43 199.23 136.63 200.50 137.80C201.77 138.97 203.08 140.23 204.50 141.60C205.92 142.97 207.50 144.62 209.00 146.00C210.50 147.38 212.17 148.77 213.50 149.90C214.83 151.03 215.73 151.95 217.00 152.80C218.27 153.65 219.77 154.42 221.10 155.00C222.43 155.58 223.52 155.80 225.00 156.30C226.48 156.80 227.88 157.47 230.00 158.00C232.12 158.53 235.37 159.33 237.70 159.50C240.03 159.67 241.87 159.25 244.00 159.00C246.13 158.75 248.17 158.58 250.50 158.00C252.83 157.42 255.73 156.29 258.00 155.50C260.27 154.71 262.82 153.75 264.10 153.28C265.38 152.82 265.17 152.85 265.70 152.70C266.23 152.55 266.58 152.52 267.30 152.37C268.02 152.22 268.57 152.13 270.00 151.80C271.43 151.47 274.07 150.98 275.90 150.40C277.73 149.82 279.30 149.05 281.00 148.30C282.70 147.55 284.60 146.58 286.10 145.90C287.60 145.22 288.52 144.98 290.00 144.20C291.48 143.42 292.88 142.45 295.00 141.20C297.12 139.95 300.37 138.07 302.70 136.70C305.03 135.33 307.13 134.11 309.00 133.00C310.87 131.89 312.82 130.71 313.90 130.06C314.98 129.41 314.97 129.51 315.50 129.10C316.03 128.69 316.18 128.47 317.10 127.62C318.02 126.77 319.37 125.55 321.00 124.00C322.63 122.45 325.23 119.67 326.90 118.30C328.57 116.93 329.52 116.55 331.00 115.80C332.48 115.05 334.30 114.37 335.80 113.80C337.30 113.23 338.52 112.75 340.00 112.40C341.48 112.05 343.03 111.80 344.70 111.70C346.37 111.60 348.45 111.75 350.00 111.80C351.55 111.85 352.73 111.81 354.00 112.01C355.27 112.21 356.43 112.47 357.60 113.02C358.77 113.56 359.93 114.50 361.00 115.27C362.07 116.04 363.00 116.77 364.00 117.64C365.00 118.51 365.93 119.39 367.00 120.50C368.07 121.61 369.32 123.01 370.40 124.31C371.48 125.61 372.45 126.86 373.50 128.29C374.55 129.71 375.53 131.10 376.70 132.88C377.87 134.65 379.22 136.78 380.50 138.93C381.78 141.09 383.15 143.50 384.40 145.80C385.65 148.09 387.07 150.87 388.00 152.70C388.93 154.53 388.83 154.26 390.00 156.79C391.17 159.31 393.43 164.20 395.00 167.86C396.57 171.52 398.15 175.54 399.40 178.74C400.65 181.95 401.45 184.17 402.50 187.11C403.55 190.06 404.70 193.41 405.70 196.41C406.70 199.41 407.65 202.41 408.50 205.12C409.35 207.84 409.80 209.27 410.80 212.71C411.80 216.15 413.33 221.50 414.50 225.77C415.67 230.05 417.25 236.26 417.80 238.36"/>
<path stroke="#ff00ff" d="M121.60 351.50C121.78 338.08 122.37 290.08 122.70 271.00C123.03 251.92 123.22 245.67 123.60 237.00C123.98 228.33 124.60 222.75 125.00 219.00C125.40 215.25 125.70 215.53 126.00 214.50C126.30 213.47 126.47 213.02 126.80 212.80C127.13 212.58 127.62 213.37 128.00 213.20C128.38 213.03 128.77 213.17 129.10 211.80C129.43 210.43 129.62 208.10 130.00 205.00C130.38 201.90 130.98 198.20 131.40 193.20C131.82 188.20 132.15 181.37 132.50 175.00C132.85 168.63 133.17 160.83 133.50 155.00C133.83 149.17 134.13 145.30 134.50 140.00C134.87 134.70 135.28 127.20 135.70 123.20C136.12 119.20 136.53 117.63 137.00 116.00C137.47 114.37 137.88 113.57 138.50 113.40C139.12 113.23 140.00 113.98 140.70 115.00C141.40 116.02 142.07 117.67 142.70 119.50C143.33 121.33 143.95 123.83 144.50 126.00C145.05 128.17 145.50 130.62 146.00 132.50C146.50 134.38 147.00 137.22 147.50 137.30C148.00 137.38 148.47 135.05 149.00 133.00C149.53 130.95 150.15 127.25 150.70 125.00C151.25 122.75 151.77 120.87 152.30 119.50C152.83 118.13 153.33 117.47 153.90 116.80C154.47 116.13 155.13 115.58 155.70 115.50C156.27 115.42 156.77 115.78 157.30 116.30C157.83 116.82 158.45 117.73 158.90 118.60C159.35 119.47 159.23 120.02 160.00 121.50C160.77 122.98 162.50 125.67 163.50 127.50C164.50 129.33 165.08 130.83 166.00 132.50C166.92 134.17 167.98 136.18 169.00 137.50C170.02 138.82 170.93 140.18 172.10 140.40C173.27 140.62 174.62 139.55 176.00 138.80C177.38 138.05 179.23 136.73 180.40 135.90C181.57 135.07 182.15 134.43 183.00 133.80C183.85 133.17 184.70 132.58 185.50 132.10C186.30 131.62 187.07 131.18 187.80 130.90C188.53 130.62 189.12 130.38 189.90 130.40C190.68 130.42 191.55 130.62 192.50 131.00C193.45 131.38 194.35 131.73 195.60 132.70C196.85 133.67 198.52 135.32 200.00 136.80C201.48 138.28 203.00 139.97 204.50 141.60C206.00 143.23 207.50 145.00 209.00 146.60C210.50 148.20 212.00 149.77 213.50 151.20C215.00 152.63 216.52 154.03 218.00 155.20C219.48 156.37 221.07 157.40 222.40 158.20C223.73 159.00 224.30 159.15 226.00 160.00C227.70 160.85 230.60 162.55 232.60 163.30C234.60 164.05 236.08 164.22 238.00 164.50C239.92 164.78 242.27 165.02 244.10 165.00C245.93 164.98 247.52 164.68 249.00 164.40C250.48 164.12 251.33 163.82 253.00 163.30C254.67 162.78 257.15 161.93 259.00 161.30C260.85 160.67 262.98 159.93 264.10 159.55C265.22 159.17 265.17 159.12 265.70 159.00C266.23 158.88 266.58 158.92 267.30 158.85C268.02 158.78 268.57 158.84 270.00 158.60C271.43 158.36 274.07 157.90 275.90 157.40C277.73 156.90 279.30 156.25 281.00 155.60C282.70 154.95 284.60 154.20 286.10 153.50C287.60 152.80 288.52 152.35 290.00 151.40C291.48 150.45 292.88 149.08 295.00 147.80C297.12 146.52 300.37 145.03 302.70 143.70C305.03 142.37 307.13 140.99 309.00 139.80C310.87 138.61 312.82 137.28 313.90 136.56C314.98 135.84 314.97 135.94 315.50 135.50C316.03 135.06 316.02 134.98 317.10 133.90C318.18 132.82 320.15 130.97 322.00 129.00C323.85 127.03 326.37 123.88 328.20 122.10C330.03 120.32 331.30 119.47 333.00 118.30C334.70 117.13 336.90 115.88 338.40 115.10C339.90 114.32 340.73 114.03 342.00 113.60C343.27 113.17 344.58 112.82 346.00 112.50C347.42 112.18 349.00 111.84 350.50 111.70C352.00 111.56 353.42 111.58 355.00 111.63C356.58 111.68 358.72 111.79 360.00 112.00C361.28 112.21 361.70 112.47 362.70 112.89C363.70 113.32 364.93 113.92 366.00 114.57C367.07 115.22 368.05 115.93 369.10 116.80C370.15 117.68 371.23 118.70 372.30 119.81C373.37 120.92 374.45 122.18 375.50 123.46C376.55 124.74 377.55 126.06 378.60 127.50C379.65 128.94 380.65 130.38 381.80 132.10C382.95 133.81 384.22 135.76 385.50 137.80C386.78 139.84 388.17 142.06 389.50 144.33C390.83 146.59 392.25 149.08 393.50 151.39C394.75 153.70 395.75 155.61 397.00 158.19C398.25 160.77 399.65 163.74 401.00 166.88C402.35 170.02 403.88 173.86 405.10 177.04C406.32 180.22 407.23 182.86 408.30 185.96C409.37 189.06 410.55 192.70 411.50 195.64C412.45 198.59 413.17 200.93 414.00 203.64C414.83 206.36 415.87 209.82 416.50 211.94C417.13 214.05 417.58 215.61 417.80 216.34"/>
<path stroke="#008000" d="M123.00 351.50C123.22 338.08 123.97 287.75 124.30 271.00C124.63 254.25 124.73 256.62 125.00 251.00C125.27 245.38 125.60 240.50 125.90 237.30C126.20 234.10 126.45 233.05 126.80 231.80C127.15 230.55 127.62 230.40 128.00 229.80C128.38 229.20 128.68 229.98 129.10 228.20C129.52 226.42 130.12 222.13 130.50 219.10C130.88 216.07 131.10 214.02 131.40 210.00C131.70 205.98 131.93 199.85 132.30 195.00C132.67 190.15 133.30 184.23 133.60 180.90C133.90 177.57 133.87 178.48 134.10 175.00C134.33 171.52 134.62 165.83 135.00 160.00C135.38 154.17 135.98 146.13 136.40 140.00C136.82 133.87 137.10 127.03 137.50 123.20C137.90 119.37 138.33 118.52 138.80 117.00C139.27 115.48 139.75 114.47 140.30 114.10C140.85 113.73 141.60 114.15 142.10 114.80C142.60 115.45 142.92 116.60 143.30 118.00C143.68 119.40 143.92 120.07 144.40 123.20C144.88 126.33 145.75 133.02 146.20 136.80C146.65 140.58 146.78 143.70 147.10 145.90C147.42 148.10 147.72 150.00 148.10 150.00C148.48 150.00 148.82 148.55 149.40 145.90C149.98 143.25 150.77 137.88 151.60 134.10C152.43 130.32 153.57 125.63 154.40 123.20C155.23 120.77 156.00 120.27 156.60 119.50C157.20 118.73 157.47 118.65 158.00 118.60C158.53 118.55 159.20 118.73 159.80 119.20C160.40 119.67 160.70 119.85 161.60 121.40C162.50 122.95 164.13 126.65 165.20 128.50C166.27 130.35 167.12 131.33 168.00 132.50C168.88 133.67 169.72 134.83 170.50 135.50C171.28 136.17 171.78 136.48 172.70 136.50C173.62 136.52 174.72 136.12 176.00 135.60C177.28 135.08 179.15 134.08 180.40 133.40C181.65 132.72 182.48 132.10 183.50 131.50C184.52 130.90 185.43 130.27 186.50 129.80C187.57 129.33 188.90 128.75 189.90 128.70C190.90 128.65 191.55 129.03 192.50 129.50C193.45 129.97 194.35 130.37 195.60 131.50C196.85 132.63 198.52 134.62 200.00 136.30C201.48 137.98 203.00 139.73 204.50 141.60C206.00 143.47 207.50 145.58 209.00 147.50C210.50 149.42 212.00 151.35 213.50 153.10C215.00 154.85 216.52 156.52 218.00 158.00C219.48 159.48 221.23 161.05 222.40 162.00C223.57 162.95 223.98 162.95 225.00 163.70C226.02 164.45 227.23 165.65 228.50 166.50C229.77 167.35 231.35 168.22 232.60 168.80C233.85 169.38 234.72 169.68 236.00 170.00C237.28 170.32 238.80 170.48 240.30 170.70C241.80 170.92 243.52 171.18 245.00 171.30C246.48 171.42 247.87 171.50 249.20 171.40C250.53 171.30 251.73 171.02 253.00 170.70C254.27 170.38 255.47 169.98 256.80 169.50C258.13 169.02 259.78 168.25 261.00 167.80C262.22 167.35 263.32 167.06 264.10 166.81C264.88 166.56 265.17 166.41 265.70 166.30C266.23 166.19 266.58 166.22 267.30 166.15C268.02 166.08 268.57 166.09 270.00 165.90C271.43 165.71 274.07 165.42 275.90 165.00C277.73 164.58 279.30 164.03 281.00 163.40C282.70 162.77 284.60 161.93 286.10 161.20C287.60 160.47 288.52 159.95 290.00 159.00C291.48 158.05 292.88 156.77 295.00 155.50C297.12 154.23 300.37 152.83 302.70 151.40C305.03 149.97 307.13 148.29 309.00 146.90C310.87 145.51 312.82 143.91 313.90 143.06C314.98 142.21 314.97 142.30 315.50 141.80C316.03 141.30 316.02 141.24 317.10 140.08C318.18 138.91 320.15 136.85 322.00 134.80C323.85 132.75 326.37 129.77 328.20 127.80C330.03 125.83 331.30 124.48 333.00 123.00C334.70 121.52 336.90 119.98 338.40 118.90C339.90 117.82 340.73 117.23 342.00 116.50C343.27 115.77 344.67 115.08 346.00 114.50C347.33 113.92 348.73 113.40 350.00 113.00C351.27 112.60 352.15 112.41 353.60 112.13C355.05 111.85 357.22 111.43 358.70 111.34C360.18 111.24 361.20 111.36 362.50 111.58C363.80 111.79 365.28 112.20 366.50 112.60C367.72 113.01 368.73 113.47 369.80 114.00C370.87 114.53 371.87 115.11 372.90 115.77C373.93 116.44 374.93 117.15 376.00 118.00C377.07 118.85 378.22 119.85 379.30 120.87C380.38 121.90 381.45 123.01 382.50 124.17C383.55 125.33 384.43 126.35 385.60 127.84C386.77 129.34 388.22 131.28 389.50 133.15C390.78 135.03 392.05 137.01 393.30 139.07C394.55 141.14 395.73 143.21 397.00 145.56C398.27 147.91 399.93 151.24 400.90 153.18C401.87 155.12 401.95 155.32 402.80 157.19C403.65 159.05 404.88 161.76 406.00 164.38C407.12 166.99 408.25 169.71 409.50 172.89C410.75 176.07 412.22 179.93 413.50 183.45C414.78 186.98 416.58 192.27 417.20 194.03"/>
</g>
<text x="113.4" y="355.5" font-size="12.2px" text-anchor="end" textLength="19.2" lengthAdjust="spacingAndGlyphs">0.85</text>
<text x="113.4" y="275.2" font-size="12.2px" text-anchor="end" textLength="19.2" lengthAdjust="spacingAndGlyphs">0.90</text>
<text x="113.4" y="194.9" font-size="12.2px" text-anchor="end" textLength="19.2" lengthAdjust="spacingAndGlyphs">0.95</text>
<text x="113.4" y="114.6" font-size="12.2px" text-anchor="end" textLength="19.2" lengthAdjust="spacingAndGlyphs">1.00</text>
<text x="162.0" y="369.4" font-size="12.3px" text-anchor="middle" textLength="22.4" lengthAdjust="spacingAndGlyphs">1000</text>
<text x="213.0" y="369.4" font-size="12.3px" text-anchor="middle" textLength="22.4" lengthAdjust="spacingAndGlyphs">1500</text>
<text x="264.1" y="369.4" font-size="12.3px" text-anchor="middle" textLength="22.4" lengthAdjust="spacingAndGlyphs">2000</text>
<text x="315.2" y="369.4" font-size="12.3px" text-anchor="middle" textLength="22.4" lengthAdjust="spacingAndGlyphs">2500</text>
<text x="366.3" y="369.4" font-size="12.3px" text-anchor="middle" textLength="22.4" lengthAdjust="spacingAndGlyphs">3000</text>
<text x="417.3" y="369.4" font-size="12.3px" text-anchor="middle" textLength="22.4" lengthAdjust="spacingAndGlyphs">3500</text>
<text x="263.4" y="385.6" font-size="16.2px" text-anchor="middle" textLength="120.3" lengthAdjust="spacingAndGlyphs">Wavelength (nm)</text>
<text transform="translate(86.5 231.9) rotate(-90)" font-size="16.6px" text-anchor="middle" textLength="94" lengthAdjust="spacingAndGlyphs">Absorptivity</text>
</svg></body></html>
